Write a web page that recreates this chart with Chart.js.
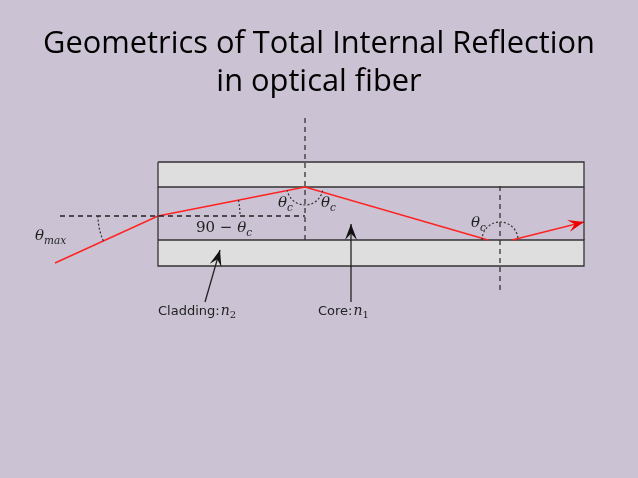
<!DOCTYPE html>
<html><head><meta charset="utf-8">
<script src="https://cdn.jsdelivr.net/npm/chart.js@4"></script>
<style>html,body{margin:0;padding:0;background:#cbc3d3;}#w{width:638px;height:478px;}</style>
</head><body><div id="w"><canvas id="c"></canvas></div>
<script>
// Diagram geometry (in picture units)
const claddingTopX = [158, 584, 584, 158, 158];
const claddingTopY = [162, 162, 187, 187, 162];
const claddingBotX = [158, 584, 584, 158, 158];
const claddingBotY = [240, 240, 266, 266, 240];
const rayX = [55, 158, 305, 488, null, 512, 584];
const rayY = [263, 216, 187, 240, null, 240, 222];
const axisHX = [60, 305];
const axisHY = [216, 216];
const normal1X = [305, 305];
const normal1Y = [118, 240];
const normal2X = [500, 500];
const normal2Y = [186, 292];
const arrowCladX = [205, 220];
const arrowCladY = [302, 250];
const arrowCoreX = [351, 351];
const arrowCoreY = [302, 224];
const titleLines = ["Geometrics of Total Internal Reflection", "in optical fiber"];

const pts = (xs, ys) => xs.map((x, i) => x === null ? {x: null, y: null} : {x, y: ys[i]});
const line = (xs, ys, color, extra) => Object.assign({data: pts(xs, ys), showLine: true, borderColor: color, borderWidth: 1.3, pointRadius: 0, fill: false, spanGaps: false, tension: 0, order: 1}, extra || {});

const deco = {
  id: 'deco',
  afterDatasetsDraw(chart) {
    const {ctx, scales: {x, y}} = chart;
    const X = v => x.getPixelForValue(v), Y = v => y.getPixelForValue(v);
    ctx.save();
    ctx.fillStyle = '#000';
    ctx.textAlign = 'center'; ctx.textBaseline = 'alphabetic';
    let fs = 30; ctx.font = fs + 'px "Open Sans"';
    fs = fs * 552 / ctx.measureText(titleLines[0]).width;
    ctx.font = fs + 'px "Open Sans"';
    ctx.fillText(titleLines[0], 319, 53);
    ctx.fillText(titleLines[1], 319, 91);
    ctx.strokeStyle = '#333'; ctx.lineWidth = 1.2; ctx.setLineDash([2, 2]);
    const arc = (cx, cy, r, a0, a1) => { ctx.beginPath(); ctx.arc(X(cx), Y(cy), r, a0, a1); ctx.stroke(); };
    arc(305, 187, 18, 0.2, Math.PI - 0.2);
    arc(500, 240, 18, Math.PI, 2 * Math.PI);
    const aRay = Math.atan2(263 - 216, 55 - 158);
    arc(158, 216, 60, aRay, Math.PI);
    const aIn = Math.atan2(187 - 216, 305 - 158);
    arc(158, 216, 82, aIn, 0);
    ctx.setLineDash([]);
    const head = (x0, y0, x1, y1, color, len, w) => {
      const a = Math.atan2(Y(y1) - Y(y0), X(x1) - X(x0));
      ctx.fillStyle = color; ctx.beginPath();
      ctx.moveTo(X(x1), Y(y1));
      ctx.lineTo(X(x1) - len * Math.cos(a) + w * Math.sin(a), Y(y1) - len * Math.sin(a) - w * Math.cos(a));
      ctx.lineTo(X(x1) - 0.6 * len * Math.cos(a), Y(y1) - 0.6 * len * Math.sin(a));
      ctx.lineTo(X(x1) - len * Math.cos(a) - w * Math.sin(a), Y(y1) - len * Math.sin(a) + w * Math.cos(a));
      ctx.closePath(); ctx.fill();
    };
    head(512, 240, 584, 222, '#e00', 16, 6);
    head(arrowCladX[0], arrowCladY[0], arrowCladX[1], arrowCladY[1], '#111', 16, 6);
    head(arrowCoreX[0], arrowCoreY[0], arrowCoreX[1], arrowCoreY[1], '#111', 16, 6);
    ctx.fillStyle = '#222'; ctx.textAlign = 'left'; ctx.textBaseline = 'alphabetic';
    const theta = (px, py, sub, size) => {
      ctx.font = 'italic ' + size + 'px "DejaVu Serif"';
      ctx.fillText('θ', px, py);
      const w = ctx.measureText('θ').width;
      ctx.font = 'italic ' + (size * 0.7) + 'px "DejaVu Serif"';
      ctx.fillText(sub, px + w, py + 4);
    };
    theta(35, 240, 'max', 15);
    ctx.font = '15px "DejaVu Serif"'; ctx.fillText('90 − ', 196, 232);
    const w90 = ctx.measureText('90 − ').width;
    theta(196 + w90, 232, 'c', 15);
    theta(278, 207, 'c', 15);
    theta(321, 207, 'c', 15);
    theta(471, 227, 'c', 15);
    const lab = (px, py, word, sub) => {
      ctx.font = '13px "DejaVu Sans"'; ctx.fillText(word, px, py);
      const w = ctx.measureText(word).width;
      ctx.font = 'italic 14px "DejaVu Serif"'; ctx.fillText('n', px + w + 1, py);
      const wn = ctx.measureText('n').width;
      ctx.font = '10px "DejaVu Serif"'; ctx.fillText(sub, px + w + 1 + wn, py + 3);
    };
    lab(158, 315, 'Cladding:', '2');
    lab(318, 315, 'Core:', '1');
    ctx.restore();
  }
};

new Chart(document.getElementById('c'), {
  type: 'scatter',
  data: {datasets: [
    line(claddingTopX, claddingTopY, '#333', {fill: 'shape', backgroundColor: '#dedede', order: 10}),
    line(claddingBotX, claddingBotY, '#333', {fill: 'shape', backgroundColor: '#dedede', order: 10}),
    line([158, 158], [187, 240], '#333'),
    line([584, 584], [187, 240], '#333'),
    line(axisHX, axisHY, '#222', {borderDash: [5, 4]}),
    line(normal1X, normal1Y, '#333', {borderDash: [5, 4]}),
    line(normal2X, normal2Y, '#333', {borderDash: [5, 4]}),
    line(rayX, rayY, '#f22', {borderWidth: 1.4}),
    line(arrowCladX, arrowCladY, '#222'),
    line(arrowCoreX, arrowCoreY, '#222')
  ]},
  options: {
    responsive: true, maintainAspectRatio: false, animation: false,
    layout: {padding: 0},
    plugins: {legend: {display: false}, tooltip: {enabled: false}, filler: {propagate: false}},
    scales: {
      x: {type: 'linear', min: 0, max: 638, display: false},
      y: {type: 'linear', min: 0, max: 478, reverse: true, display: false}
    }
  },
  plugins: [deco]
});
</script></body></html>
